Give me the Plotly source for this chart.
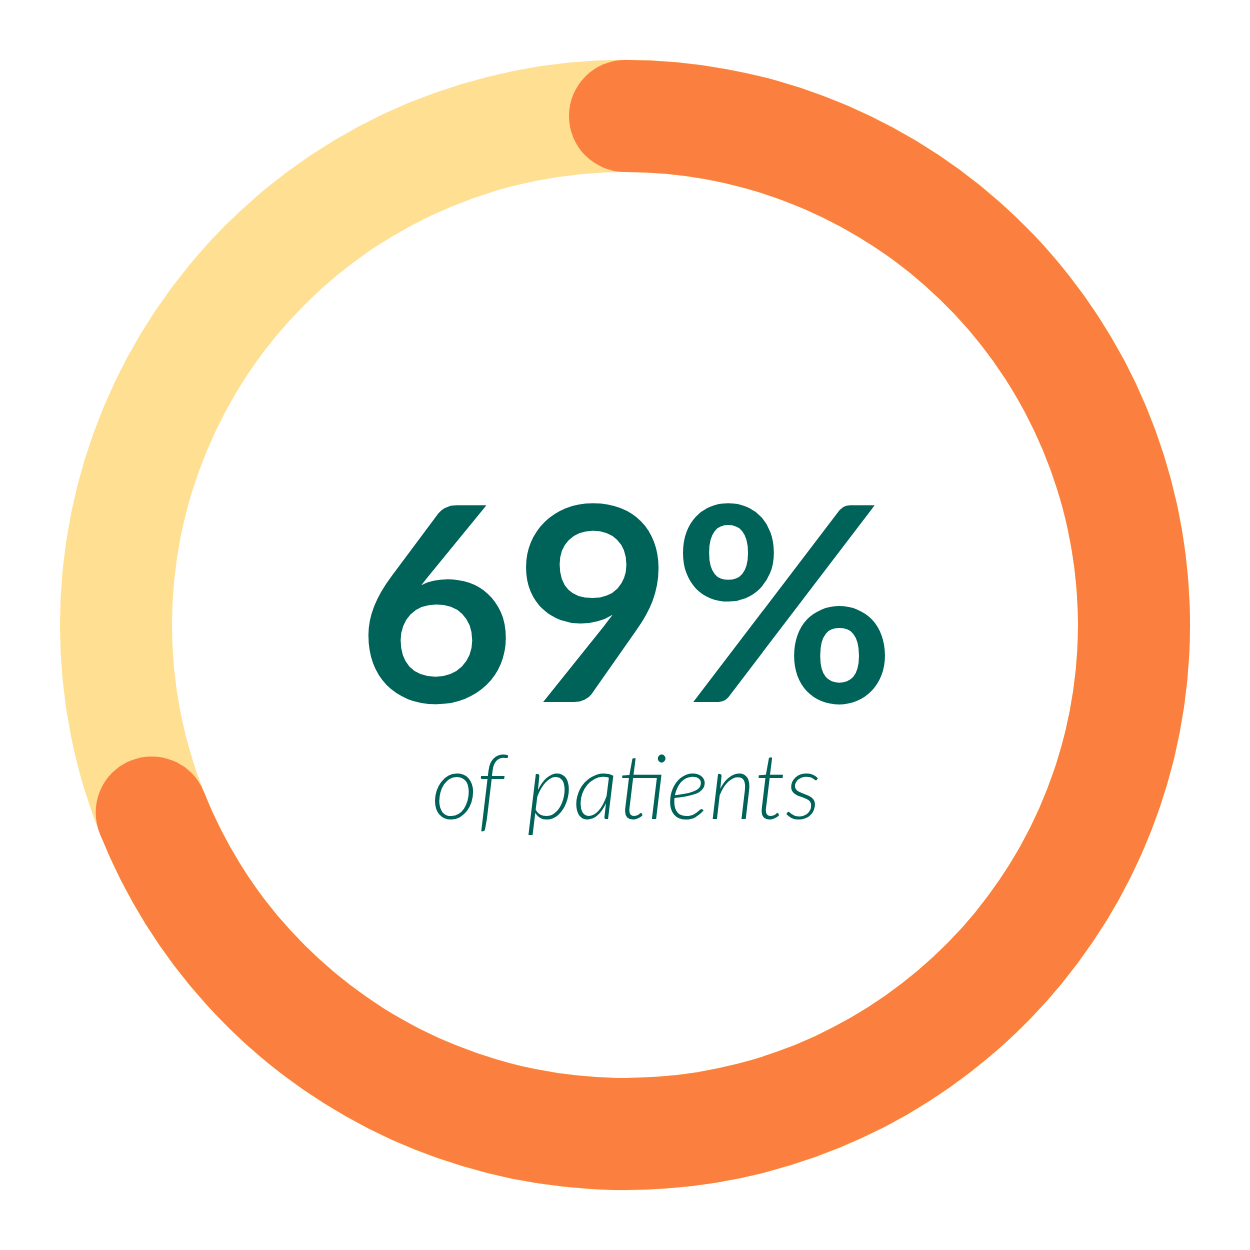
import plotly.graph_objects as go

# share shown in the ring
labels = ["of patients", "rest"]
values = [69, 31]
colors = ["#FB8040", "#FFDF91"]
big_text = "69%"
sub_text = "of patients"

W = 1250
off = 8  # page body margin the browser adds around the plot div

# ring geometry in px (radial axis runs 0..R so 1 unit = 1 px)
R = (W - 2 * off) / 2
r_in, r_out = 453, 565
thick = r_out - r_in
r_mid = (r_in + r_out) / 2

total = sum(values)
arc = 360 * values[0] / total


def px_x(px):
    return (px - off) / W


def px_y(py):
    return 1 - (py - off) / W


fig = go.Figure()

# yellow background ring
fig.add_trace(go.Barpolar(r=[thick], theta=[180], width=[360], base=[r_in],
                          marker=dict(color=colors[1], line=dict(width=0)),
                          hoverinfo="skip"))
# orange share arc
fig.add_trace(go.Barpolar(r=[thick], theta=[arc / 2], width=[arc], base=[r_in],
                          marker=dict(color=colors[0], line=dict(width=0)),
                          name=labels[0], hoverinfo="skip"))
# round caps at both ends of the arc
fig.add_trace(go.Scatterpolar(r=[r_mid, r_mid], theta=[0, arc], mode="markers",
                              marker=dict(size=thick, color=colors[0], line=dict(width=0)),
                              hoverinfo="skip"))

fig.update_layout(
    width=W, height=W,
    margin=dict(l=0, r=0, t=0, b=0),
    paper_bgcolor="white",
    showlegend=False,
    polar=dict(
        domain=dict(x=[0, 2 * R / W], y=[1 - 2 * R / W, 1]),
        bgcolor="rgba(0,0,0,0)",
        bargap=0,
        radialaxis=dict(range=[0, R], visible=False, showgrid=False),
        angularaxis=dict(rotation=90, direction="clockwise", visible=False, showgrid=False),
    ),
)

# one text block: big number on top, caption below
label = ('<span style="font-size:272px;font-weight:bold;font-style:normal">'
         + big_text + '</span><br>' + sub_text)
fig.add_annotation(text=label, x=px_x(626), y=px_y(636),
                   xref="paper", yref="paper", showarrow=False,
                   font=dict(family="Lato", size=90, color="#00635A", style="italic", weight=300))

fig.write_html("out.html")
